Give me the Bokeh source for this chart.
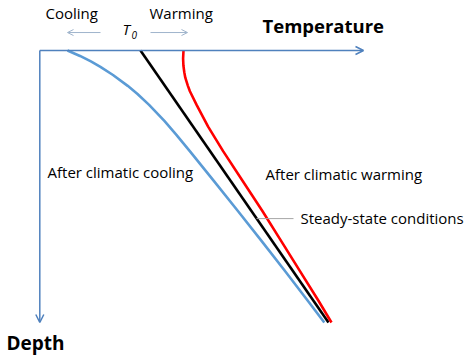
from bokeh.plotting import figure
from bokeh.models import Range1d, Label, Arrow, OpenHead
from bokeh.embed import file_html
from bokeh.resources import INLINE

# ---- data: temperature (relative to T0, arbitrary units) vs depth (0..100) ----
depth_steady = [0, 100]
temp_steady = [0.0, 18.8]

depth_cooling = [0, 2, 4, 6, 9, 13, 16, 20, 26, 31, 37, 48, 59, 70, 81, 92, 100]
temp_cooling = [-7.3, -6.05, -4.96, -4.01, -2.75, -1.28, -0.30, 0.86, 2.41, 3.59,
                4.93, 7.35, 9.74, 12.10, 14.43, 16.73, 18.38]

depth_warming = [0, 3, 5.5, 8, 10, 13, 15, 20, 28, 37, 48, 59, 70, 81, 92, 100]
temp_warming = [4.3, 4.26, 4.29, 4.38, 4.48, 4.74, 4.94, 5.61, 6.76, 8.26, 10.22,
                12.19, 14.06, 15.93, 17.8, 19.1]

label_cooling = "Cooling"
label_warming = "Warming"
label_temp = "Temperature"
label_depth = "Depth"
label_after_cool = "After climatic cooling"
label_after_warm = "After climatic warming"
label_steady = "Steady-state conditions"

FONT = "Open Sans"
AXIS_COLOR = "#4f81bd"
BLUE = "#5b9bd5"
RED = "#ff0000"

p = figure(width=470, height=360, output_backend="svg", toolbar_location=None,
           x_range=Range1d(-14.0, 33.0), y_range=Range1d(113.97, -18.38),
           x_axis_type=None, y_axis_type=None, min_border=0)
p.min_border_left = p.min_border_right = p.min_border_top = p.min_border_bottom = 0
p.outline_line_color = None
p.grid.visible = False
p.background_fill_color = "white"

# axes as arrows
T_AXIS_X0, T_AXIS_X1 = -10.07, 22.3
D_AXIS_Y1 = 100
p.add_layout(Arrow(end=OpenHead(size=8, line_color=AXIS_COLOR, line_width=1.5),
                   x_start=T_AXIS_X0, y_start=0, x_end=T_AXIS_X1, y_end=0,
                   line_color=AXIS_COLOR, line_width=1.5))
p.add_layout(Arrow(end=OpenHead(size=8, line_color=AXIS_COLOR, line_width=1.5),
                   x_start=T_AXIS_X0, y_start=0, x_end=T_AXIS_X0, y_end=D_AXIS_Y1,
                   line_color=AXIS_COLOR, line_width=1.5))

# curves
p.line(temp_cooling, depth_cooling, line_color=BLUE, line_width=2.6, line_join="round")
p.line(temp_steady, depth_steady, line_color="black", line_width=2.6)
p.line(temp_warming, depth_warming, line_color=RED, line_width=2.6, line_join="round")

# small arrows for cooling / warming
ARROW_C = "#9fb4cc"
p.add_layout(Arrow(end=OpenHead(size=6, line_color=ARROW_C, line_width=1),
                   x_start=-4.0, y_start=-6.6, x_end=-7.3, y_end=-6.6,
                   line_color=ARROW_C, line_width=1))
p.add_layout(Arrow(end=OpenHead(size=6, line_color=ARROW_C, line_width=1),
                   x_start=1.0, y_start=-6.6, x_end=4.7, y_end=-6.6,
                   line_color=ARROW_C, line_width=1))

# pointer line to steady state
p.line([11.6, 15.3], [61.8, 61.8], line_color="#a6a6a6", line_width=1)

def lab(x, y, text, size, style="normal", color="black"):
    p.add_layout(Label(x=x, y=y, text=text, text_font=FONT, text_font_size=size,
                       text_font_style=style, text_color=color,
                       text_baseline="alphabetic", text_align="left"))

lab(-9.5, -13.77, label_cooling, "15px")
lab(0.9, -13.77, label_warming, "15px")
lab(-1.8, -7.72, "T", "15px", "italic")
lab(-0.9, -5.63, "0", "10px", "italic")
lab(12.2, -9.18, label_temp, "18.5px", "bold")
lab(-13.4, 107.4, label_depth, "19px", "bold")
lab(-9.3, 44.63, label_after_cool, "15px")
lab(12.5, 45.23, label_after_warm, "15px")
lab(16.0, 61.43, label_steady, "15px")

open("out.html", "w").write(file_html(p, INLINE))
